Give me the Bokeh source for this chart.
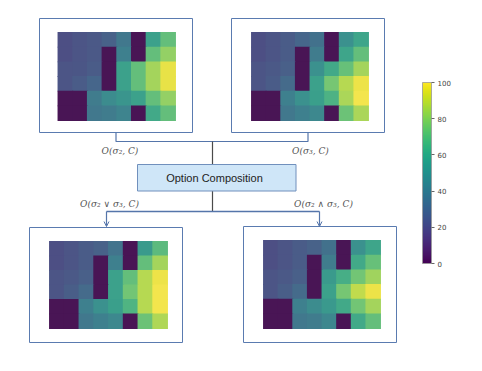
from bokeh.plotting import figure
from bokeh.models import Range1d, ColorBar, LinearColorMapper, FixedTicker, Arrow, OpenHead, ColumnDataSource
from bokeh.palettes import Viridis256
from bokeh.core.properties import value
from bokeh.embed import file_html
from bokeh.resources import INLINE

# ---- data (rows top -> bottom, 8 columns) ----
grid_sigma2 = [
    [20, 22, 24, 28, 38, 0, 58, 72],
    [20, 22, 24, 0, 42, 0, 72, 82],
    [22, 23, 25, 0, 58, 72, 85, 97],
    [22, 25, 30, 0, 58, 72, 85, 97],
    [0, 0, 40, 48, 52, 58, 72, 82],
    [0, 0, 38, 40, 44, 0, 62, 72],
]
grid_sigma3 = [
    [20, 22, 25, 30, 35, 0, 50, 60],
    [20, 22, 25, 0, 40, 0, 60, 72],
    [22, 24, 27, 0, 50, 62, 73, 85],
    [22, 25, 32, 0, 58, 76, 88, 98],
    [0, 0, 42, 50, 57, 66, 86, 99],
    [0, 0, 38, 42, 46, 0, 74, 86],
]
grid_or = [
    [20, 22, 25, 28, 36, 0, 55, 70],
    [20, 22, 25, 0, 42, 0, 72, 85],
    [22, 24, 27, 0, 58, 72, 88, 98],
    [22, 26, 32, 0, 58, 75, 88, 99],
    [0, 0, 42, 50, 57, 67, 88, 99],
    [0, 0, 38, 42, 46, 0, 74, 87],
]
grid_and = [
    [20, 22, 25, 28, 35, 0, 50, 60],
    [20, 22, 25, 0, 40, 0, 62, 73],
    [22, 24, 27, 0, 55, 64, 75, 84],
    [22, 26, 32, 0, 58, 76, 90, 98],
    [0, 0, 42, 48, 54, 62, 75, 85],
    [0, 0, 38, 40, 45, 0, 62, 72],
]
labels_top = ["O(σ₂, C)", "O(σ₃, C)"]
labels_bottom = ["O(σ₂ ∨ σ₃, C)", "O(σ₂ ∧ σ₃, C)"]
center_label = "Option Composition"
cbar_ticks = [0, 20, 40, 60, 80, 100]
cbar_low, cbar_high = 0, 100

# ---- figure: data coordinates == page pixel coordinates ----
W, H = 466, 355
p = figure(width=W, height=H, output_backend="svg", toolbar_location=None,
           x_range=Range1d(0, W), y_range=Range1d(H, 0),
           min_border=0, outline_line_color=None)
p.axis.visible = False
p.grid.visible = False


def soften(hexcol, desat=0.18, light=0.06):
    r, g, b = (int(hexcol[i:i + 2], 16) for i in (1, 3, 5))
    lum = 0.3 * r + 0.59 * g + 0.11 * b
    r, g, b = (c + (lum - c) * desat for c in (r, g, b))
    r, g, b = (max(0, min(255, round(c + (255 - c) * light))) for c in (r, g, b))
    return "#%02x%02x%02x" % (r, g, b)


soft_viridis = [soften(c) for c in Viridis256]
cell_mapper = LinearColorMapper(palette=soft_viridis, low=cbar_low, high=cbar_high)
mapper = LinearColorMapper(palette=Viridis256, low=cbar_low, high=cbar_high)

# panel geometry: frame (l, r, t, b), heatmap (l, r, t, b)
panels = [
    (grid_sigma2, (39, 192, 18, 132), (57.5, 175, 32, 120)),
    (grid_sigma3, (231, 384, 18, 132), (251, 368, 32, 120)),
    (grid_or, (29, 182, 227, 342), (49, 167, 241, 328)),
    (grid_and, (243, 396, 226, 342), (263, 380, 240, 328)),
]
frame_col = "#5a7bb0"
for grid, fr, hm in panels:
    p.quad(left=[fr[0]], right=[fr[1]], top=[fr[2]], bottom=[fr[3]],
           fill_color="white", line_color=frame_col, line_width=1)
    nrows, ncols = len(grid), len(grid[0])
    cw = (hm[1] - hm[0]) / ncols
    ch = (hm[3] - hm[2]) / nrows
    xs, ys, vs = [], [], []
    for i, row in enumerate(grid):
        for j, v in enumerate(row):
            xs.append(hm[0] + (j + 0.5) * cw)
            ys.append(hm[2] + (i + 0.5) * ch)
            vs.append(v)
    src = ColumnDataSource(dict(x=xs, y=ys, v=vs))
    p.rect(x="x", y="y", width=cw + 0.9, height=ch + 0.9, source=src,
           fill_color={"field": "v", "transform": cell_mapper}, line_color=None)

# connectors
blue = "#5575aa"
dark = "#4a4a4a"
p.line(x=[115.5, 115.5, 307.5, 307.5], y=[132, 141, 141, 132], line_color=blue, line_width=1.2)
p.line(x=[212, 212], y=[141, 164], line_color=dark, line_width=1.2)
p.line(x=[212, 212], y=[190, 211], line_color=dark, line_width=1.2)
p.line(x=[106, 319], y=[211, 211], line_color=blue, line_width=1.5)
for xa in (106, 319):
    p.add_layout(Arrow(end=OpenHead(size=5, line_color=blue, line_width=1),
                       x_start=xa, y_start=211, x_end=xa, y_end=226,
                       line_color=blue, line_width=1.2))

# option composition box
p.quad(left=[137], right=[295.5], top=[164], bottom=[190.5],
       fill_color="#cfe6f8", line_color="#7090bd", line_width=1)
p.text(x=[214], y=[177.5], text=[center_label], text_align="center", text_baseline="middle",
       text_font=value("Liberation Sans"), text_font_size="11px", text_color="#222222")

# labels
p.text(x=[119.5, 310], y=[150, 150], text=labels_top, text_align="center", text_baseline="middle",
       text_font=value("DejaVu Serif"), text_font_style="italic", text_font_size="9px",
       text_color="#555555")
p.text(x=[109, 323], y=[203, 203], text=labels_bottom, text_align="center", text_baseline="middle",
       text_font=value("DejaVu Serif"), text_font_style="italic", text_font_size="9px",
       text_color="#555555")

# colorbar
cb = ColorBar(color_mapper=mapper, ticker=FixedTicker(ticks=cbar_ticks),
              orientation="vertical", width=9, height=181, padding=0,
              location=(422, H - 263),
              bar_line_color="#999999", bar_line_width=0.8,
              major_tick_in=0, major_tick_out=3, major_tick_line_color="#666666",
              minor_tick_line_color=None,
              major_label_text_font_size="7px", major_label_text_color="#444444",
              major_label_text_font="DejaVu Sans",
              label_standoff=3, background_fill_alpha=0, border_line_color=None)
p.add_layout(cb)

open("out.html", "w").write(file_html(p, INLINE))
